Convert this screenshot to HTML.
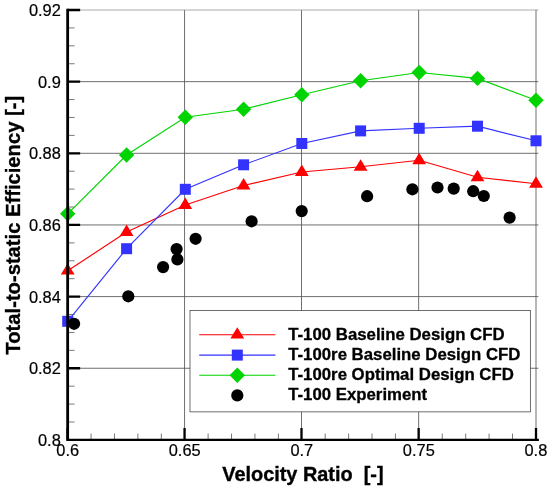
<!DOCTYPE html>
<html lang="en"><head><meta charset="utf-8"><title>Efficiency vs Velocity Ratio</title>
<style>html,body{margin:0;padding:0;background:#fff}svg{display:block}</style></head>
<body>
<svg width="550" height="490" viewBox="0 0 550 490">
<rect width="550" height="490" fill="#fff"/>
<path d="M184.55 10.0 V439.9 M301.50 10.0 V439.9 M418.65 10.0 V439.9 M536.00 10.0 V439.9 M67.65 368.25 H538.4 M67.65 296.60 H538.4 M67.65 224.95 H538.4 M67.65 153.30 H538.4 M67.65 81.65 H538.4" stroke="#555" stroke-width="0.85" fill="none"/>
<path d="M67.65 10.0 H538.4" stroke="#888" stroke-width="0.7" fill="none"/>
<path d="M67.65 421.99 h6.9 M67.65 404.07 h6.9 M67.65 386.16 h6.9 M67.65 350.34 h6.9 M67.65 332.42 h6.9 M67.65 314.51 h6.9 M67.65 278.69 h6.9 M67.65 260.77 h6.9 M67.65 242.86 h6.9 M67.65 207.04 h6.9 M67.65 189.12 h6.9 M67.65 171.21 h6.9 M67.65 135.39 h6.9 M67.65 117.48 h6.9 M67.65 99.56 h6.9 M67.65 63.74 h6.9 M67.65 45.82 h6.9 M67.65 27.91 h6.9 M91.06 439.9 v-6.3 M114.48 439.9 v-6.3 M137.89 439.9 v-6.3 M161.30 439.9 v-6.3 M208.12 439.9 v-6.3 M231.54 439.9 v-6.3 M254.95 439.9 v-6.3 M278.36 439.9 v-6.3 M325.19 439.9 v-6.3 M348.60 439.9 v-6.3 M372.01 439.9 v-6.3 M395.43 439.9 v-6.3 M442.25 439.9 v-6.3 M465.66 439.9 v-6.3 M489.08 439.9 v-6.3 M512.49 439.9 v-6.3" stroke="#555" stroke-width="0.8" fill="none"/>
<polyline points="67.7,270.7 126.6,232.1 185.3,205.0 243.6,185.5 301.8,172.0 360.6,166.8 419.2,160.3 477.5,177.3 536.0,183.8" fill="none" stroke="#ff0000" stroke-width="1.15"/>
<path d="M60.8 274.6 L74.6 274.6 L67.7 263.2 Z" fill="#ff0000"/>
<path d="M119.7 236.0 L133.5 236.0 L126.6 224.6 Z" fill="#ff0000"/>
<path d="M178.4 208.9 L192.2 208.9 L185.3 197.5 Z" fill="#ff0000"/>
<path d="M236.7 189.4 L250.5 189.4 L243.6 178.0 Z" fill="#ff0000"/>
<path d="M294.9 175.9 L308.7 175.9 L301.8 164.5 Z" fill="#ff0000"/>
<path d="M353.7 170.7 L367.5 170.7 L360.6 159.3 Z" fill="#ff0000"/>
<path d="M412.3 164.2 L426.1 164.2 L419.2 152.8 Z" fill="#ff0000"/>
<path d="M470.6 181.2 L484.4 181.2 L477.5 169.8 Z" fill="#ff0000"/>
<path d="M529.1 187.7 L542.9 187.7 L536.0 176.3 Z" fill="#ff0000"/>
<polyline points="67.7,321.3 126.6,248.7 185.3,189.3 243.6,164.8 301.8,143.5 360.6,130.9 419.2,128.3 477.5,126.2 536.0,140.8" fill="none" stroke="#3333ff" stroke-width="1.15"/>
<rect x="62.2" y="315.8" width="11.0" height="11.0" fill="#3333ff"/>
<rect x="121.1" y="243.2" width="11.0" height="11.0" fill="#3333ff"/>
<rect x="179.8" y="183.8" width="11.0" height="11.0" fill="#3333ff"/>
<rect x="238.1" y="159.3" width="11.0" height="11.0" fill="#3333ff"/>
<rect x="296.3" y="138.0" width="11.0" height="11.0" fill="#3333ff"/>
<rect x="355.1" y="125.4" width="11.0" height="11.0" fill="#3333ff"/>
<rect x="413.7" y="122.8" width="11.0" height="11.0" fill="#3333ff"/>
<rect x="472.0" y="120.7" width="11.0" height="11.0" fill="#3333ff"/>
<rect x="530.5" y="135.3" width="11.0" height="11.0" fill="#3333ff"/>
<polyline points="67.7,213.8 126.6,155.0 185.3,117.3 243.6,109.2 301.8,94.7 360.6,80.8 419.2,72.5 477.5,78.4 536.0,100.3" fill="none" stroke="#00d400" stroke-width="1.15"/>
<path d="M60.0 213.8 L67.7 206.1 L75.4 213.8 L67.7 221.5 Z" fill="#00d400"/>
<path d="M118.9 155.0 L126.6 147.3 L134.3 155.0 L126.6 162.7 Z" fill="#00d400"/>
<path d="M177.6 117.3 L185.3 109.6 L193.0 117.3 L185.3 125.0 Z" fill="#00d400"/>
<path d="M235.9 109.2 L243.6 101.5 L251.3 109.2 L243.6 116.9 Z" fill="#00d400"/>
<path d="M294.1 94.7 L301.8 87.0 L309.5 94.7 L301.8 102.4 Z" fill="#00d400"/>
<path d="M352.9 80.8 L360.6 73.1 L368.3 80.8 L360.6 88.5 Z" fill="#00d400"/>
<path d="M411.5 72.5 L419.2 64.8 L426.9 72.5 L419.2 80.2 Z" fill="#00d400"/>
<path d="M469.8 78.4 L477.5 70.7 L485.2 78.4 L477.5 86.1 Z" fill="#00d400"/>
<path d="M528.3 100.3 L536.0 92.6 L543.7 100.3 L536.0 108.0 Z" fill="#00d400"/>
<circle cx="74.1" cy="323.8" r="6.1" fill="#000"/>
<circle cx="128.3" cy="296.3" r="6.1" fill="#000"/>
<circle cx="163.1" cy="267.1" r="6.1" fill="#000"/>
<circle cx="176.6" cy="249.1" r="6.1" fill="#000"/>
<circle cx="177.4" cy="259.4" r="6.1" fill="#000"/>
<circle cx="195.6" cy="238.8" r="6.1" fill="#000"/>
<circle cx="251.6" cy="221.3" r="6.1" fill="#000"/>
<circle cx="301.7" cy="211.1" r="6.1" fill="#000"/>
<circle cx="367.1" cy="196.2" r="6.1" fill="#000"/>
<circle cx="412.4" cy="189.3" r="6.1" fill="#000"/>
<circle cx="437.5" cy="187.5" r="6.1" fill="#000"/>
<circle cx="453.7" cy="188.6" r="6.1" fill="#000"/>
<circle cx="473.2" cy="191.2" r="6.1" fill="#000"/>
<circle cx="483.8" cy="196.0" r="6.1" fill="#000"/>
<circle cx="509.6" cy="217.6" r="6.1" fill="#000"/>
<path d="M67.65 439.9 H538.9 M67.65 439.90 h12.5 M67.65 368.25 h12.5 M67.65 296.60 h12.5 M67.65 224.95 h12.5 M67.65 153.30 h12.5 M67.65 81.65 h12.5 M67.65 10.00 h12.5 M67.65 439.9 v-12 M184.55 439.9 v-12 M301.50 439.9 v-12 M418.65 439.9 v-12 M536.00 439.9 v-12" stroke="#000" stroke-width="2.3" fill="none"/>
<path d="M67.65 8.85 V441.04999999999995" stroke="#000" stroke-width="2.8" fill="none"/>
<rect x="190.0" y="310.55" width="340.4" height="101.3" fill="#fff" stroke="#555" stroke-width="0.85"/>
<path d="M199.2 334.7 H275.4" stroke="#ff0000" stroke-width="1.15"/>
<path d="M199.2 355.1 H275.4" stroke="#3333ff" stroke-width="1.15"/>
<path d="M199.2 375.2 H275.4" stroke="#00d400" stroke-width="1.15"/>
<path d="M230.4 338.6 L244.2 338.6 L237.3 327.2 Z" fill="#ff0000"/>
<rect x="231.8" y="349.6" width="11.0" height="11.0" fill="#3333ff"/>
<path d="M229.6 375.2 L237.3 367.5 L245.0 375.2 L237.3 382.9 Z" fill="#00d400"/>
<circle cx="237.3" cy="395.4" r="6.1" fill="#000"/>
<g font-family="'Liberation Sans', Arial, Helvetica, sans-serif" font-weight="bold" font-size="16.8" fill="#000" stroke="#000" stroke-width="0.3">
<text x="288.2" y="339.7">T-100 Baseline Design CFD</text>
<text x="288.2" y="359.8">T-100re Baseline Design CFD</text>
<text x="288.2" y="380.0">T-100re Optimal Design CFD</text>
<text x="288.2" y="399.8">T-100 Experiment</text>
</g>
<g font-family="'Liberation Sans', Arial, Helvetica, sans-serif" font-size="16.4" fill="#000" stroke="#000" stroke-width="0.2">
<text x="60.8" y="445.8" text-anchor="end">0.8</text>
<text x="60.8" y="374.1" text-anchor="end">0.82</text>
<text x="60.8" y="302.5" text-anchor="end">0.84</text>
<text x="60.8" y="230.8" text-anchor="end">0.86</text>
<text x="60.8" y="159.2" text-anchor="end">0.88</text>
<text x="60.8" y="87.6" text-anchor="end">0.9</text>
<text x="60.8" y="15.9" text-anchor="end">0.92</text>
<text x="67.7" y="456.1" text-anchor="middle">0.6</text>
<text x="184.7" y="456.1" text-anchor="middle">0.65</text>
<text x="301.8" y="456.1" text-anchor="middle">0.7</text>
<text x="418.8" y="456.1" text-anchor="middle">0.75</text>
<text x="535.9" y="456.1" text-anchor="middle">0.8</text>
</g>
<g font-family="'Liberation Sans', Arial, Helvetica, sans-serif" font-weight="bold" font-size="20.2" fill="#000" stroke="#000" stroke-width="0.35">
<text x="302.9" y="481.0" font-size="19.9" text-anchor="middle" xml:space="preserve">Velocity Ratio  [-]</text>
<text transform="translate(20.4 225.2) rotate(-90)" text-anchor="middle">Total-to-static Efficiency [-]</text>
</g>
</svg>
</body></html>
